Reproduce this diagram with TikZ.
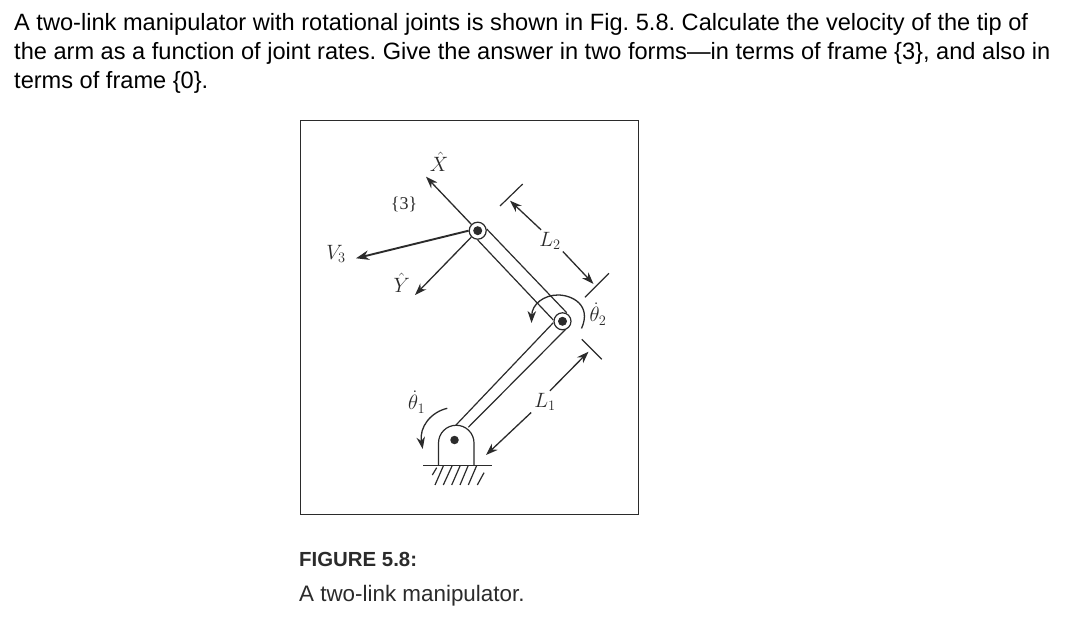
\documentclass[tikz,border=0pt]{standalone}
\usepackage{fontspec}
\setmainfont{Liberation Sans}
\usetikzlibrary{arrows.meta}
\definecolor{ink}{HTML}{2B2B2B}
\frenchspacing
\tikzset{
  x=1pt,y=-1pt,
  para/.style={anchor=base west,inner sep=0pt,font=\fontsize{23.6}{26}\selectfont,text=black},
  capt/.style={anchor=base west,inner sep=0pt,font=\fontsize{22.4}{26}\selectfont,text=ink},
  lab/.style={inner sep=0pt,text=ink,font=\fontsize{21}{24}\selectfont},
  thinline/.style={draw=ink,line width=1.2pt},
  link/.style={draw=ink,line width=1.2pt},
  arr/.style={draw=ink,line width=1.3pt,-{Stealth[length=12pt,width=8.5pt]}},
  thickarr/.style={draw=ink,line width=1.9pt,-{Stealth[length=13pt,width=9.5pt]}},
  joint/.style={circle,draw=ink,fill=white,line width=1.2pt,minimum size=17pt,inner sep=0pt},
  pin/.style={circle,fill=ink,minimum size=9pt,inner sep=0pt},
}
\begin{document}
\begin{tikzpicture}
\useasboundingbox (0,0) rectangle (1068,628);
\fill[white] (0,0) rectangle (1068,628);
\node[para] (t1) at (14,31) {A two-link manipulator with rotational joints is shown in Fig. 5.8. Calculate the velocity of the tip of};
\node[para] (t2) at (14,60) {the arm as a function of joint rates. Give the answer in two forms---in terms of frame \{3\}, and also in};
\node[para] (t3) at (14,89) {terms of frame \{0\}.};
\node[draw=ink,line width=1.2pt,minimum width=338pt,minimum height=394.5pt,inner sep=0pt,anchor=north west] (frame) at (300,119.7) {};
\node[capt,font=\fontsize{20.4}{26}\selectfont\bfseries] (c1) at (299,566) {FIGURE 5.8:};
\node[capt] (c2) at (299,601) {A two-link manipulator.};
% base
\coordinate (g1) at (423,465.5); \coordinate (g2) at (492,465.5);
\draw[thinline] (g1) -- (g2);
\draw[thinline] (436.7,467.7) -- (432.3,475);
\draw[thinline] (443.3,466) -- (435,485);
\draw[thinline] (452,466) -- (443.3,485);
\draw[thinline] (460,466) -- (451.7,485);
\draw[thinline] (468,466) -- (460,485);
\draw[thinline] (476.5,466) -- (468.3,485);
\draw[thinline] (484,472.7) -- (477.3,485);
\draw[thinline] (438.5,465.5) -- (438.5,443) arc[start angle=180,end angle=360,radius=17.75] -- (474,465.5);
% links
\draw[link] (456,425) -- (553.3,322.7);
\draw[link] (468.3,427.3) -- (565.7,329.3);
\draw[link] (477.7,240) -- (553.3,320);
\draw[link] (486.7,229) -- (566.7,312.7);
% joints
\node[joint] (j1) at (562.5,321.3) {};
\node[pin] (p1) at (j1) {};
\node[joint] (j2) at (477.7,230.7) {};
\node[pin] (p2) at (j2) {};
\node[pin,minimum size=8.5pt] (p0) at (454.5,440) {};
% frame axes
\coordinate (xtip) at (426,176.7);
\coordinate (ytip) at (415,295);
\coordinate (vtip) at (356,258.3);
\draw[arr] (j2.north west) -- (xtip);
\draw[arr] (j2.south west) -- (ytip);
\draw[thickarr] (j2.west) -- (vtip);
\node[lab] (lx) at (439,161.5) {$\hat{X}$};
\node[lab] (ly) at (401.7,283) {$\hat{Y}$};
\node[lab] (lv) at (336,254) {$V_3$};
\node[lab,font=\fontsize{18}{20}\selectfont] (l3) at (404,204) {\fontspec{Liberation Serif}\{3\}};
% L2 dimension
\coordinate (a1) at (500,206); \coordinate (a2) at (522.7,184);
\coordinate (b1) at (585,297.3); \coordinate (b2) at (609,273.3);
\draw[thinline] (a1) -- (a2);
\draw[thinline] (b1) -- (b2);
\node[lab] (L2) at (550,240.7) {$L_2$};
\coordinate (c2a) at (510,200.7); \coordinate (c2b) at (593.5,284);
\draw[arr] (L2.north west) ++(2,-2) -- (c2a);
\draw[arr] (L2.south east) ++(2,2) -- (c2b);
% L1 dimension
\coordinate (d1) at (581.7,339.3); \coordinate (d2) at (601.7,359.3);
\draw[thinline] (d1) -- (d2);
\node[lab] (L1) at (545,401.7) {$L_1$};
\coordinate (e1) at (588.5,351.7); \coordinate (e2) at (486,455);
\draw[arr] (L1.north east) ++(-6,-2) -- (e1);
\draw[arr] (L1.south west) ++(-3,2) -- (e2);
% rates
\coordinate (s2) at (581.5,328.5); \coordinate (t2c) at (531.5,323);
\draw[arr] (s2) .. controls (592,305) and (572,295) .. (558,295) .. controls (544,295) and (532,304) .. (t2c);
\coordinate (s1) at (447.3,408.3); \coordinate (t1c) at (422.7,449);
\draw[arr] (s1) .. controls (431,412) and (419,427) .. (t1c);
\node[lab] (th2) at (598,314) {$\dot\theta_2$};
\node[lab] (th1) at (416.7,402) {$\dot\theta_1$};
\end{tikzpicture}
\end{document}
